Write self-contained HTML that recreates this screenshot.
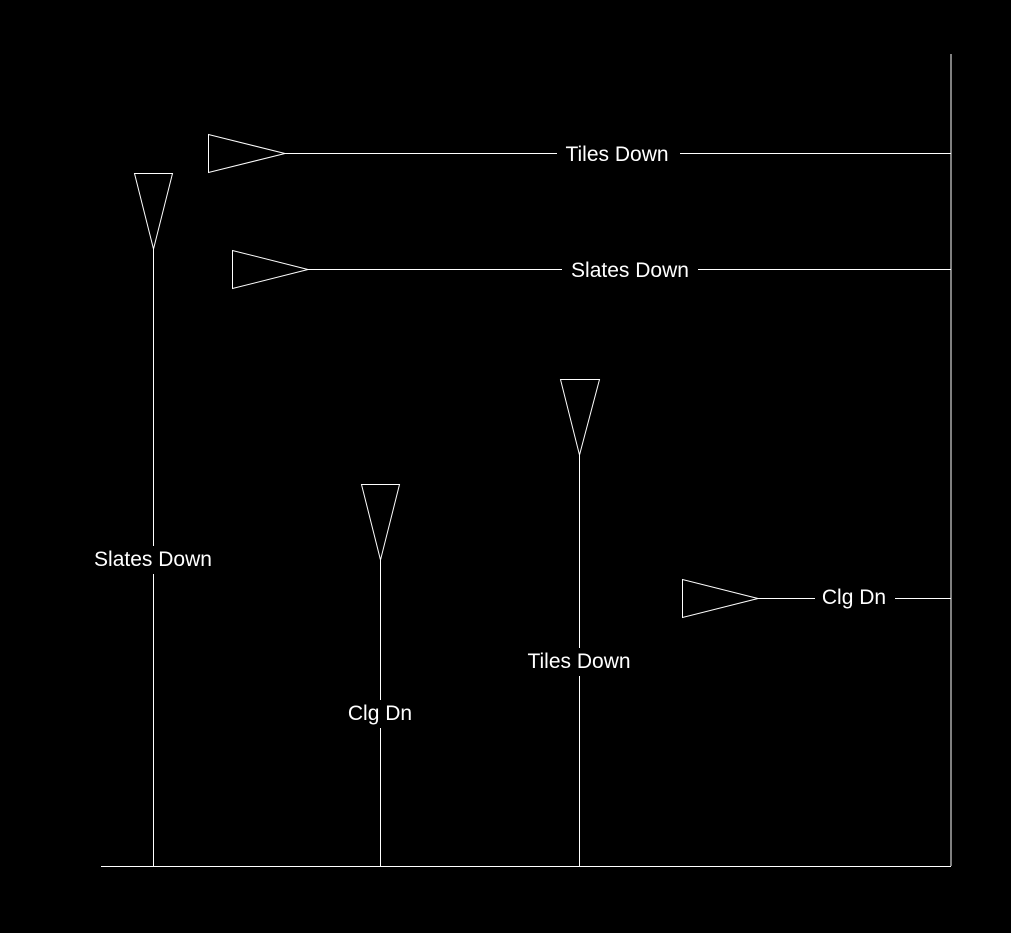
<!DOCTYPE html>
<html><head><style>html,body{margin:0;padding:0;background:#000;}svg{display:block}</style></head>
<body>
<svg width="1011" height="933" viewBox="0 0 1011 933" xmlns="http://www.w3.org/2000/svg">
<rect width="1011" height="933" fill="#000"/>
<g stroke="#fff" stroke-width="1" fill="none" shape-rendering="crispEdges">
<line x1="951" y1="54" x2="951" y2="866"/>
<line x1="101" y1="866.5" x2="951" y2="866.5"/>
<line x1="285" y1="153.5" x2="557" y2="153.5"/>
<line x1="680" y1="153.5" x2="951" y2="153.5"/>
<line x1="308" y1="269.5" x2="562" y2="269.5"/>
<line x1="698" y1="269.5" x2="951" y2="269.5"/>
<line x1="758" y1="598.5" x2="815" y2="598.5"/>
<line x1="895" y1="598.5" x2="951" y2="598.5"/>
<line x1="153.5" y1="249" x2="153.5" y2="866"/>
<line x1="380.5" y1="560" x2="380.5" y2="866"/>
<line x1="579.5" y1="455" x2="579.5" y2="866"/>
</g>
<g stroke="#fff" stroke-width="1" fill="none">
<polygon points="208.5,134.5 208.5,172.5 285,153.5"/>
<polygon points="232.5,250.5 232.5,288.5 308,269.5"/>
<polygon points="682.5,579.5 682.5,617.5 758,598.5"/>
<polygon points="134.5,173.5 172.5,173.5 153.5,249"/>
<polygon points="361.5,484.5 399.5,484.5 380.5,560"/>
<polygon points="560.5,379.5 599.5,379.5 579.5,455"/>
</g>
<g fill="#000">
<rect x="88" y="546" width="130" height="28"/>
<rect x="341" y="700" width="78" height="28"/>
<rect x="520" y="648" width="118" height="28"/>
</g>
<g fill="#fff" font-family="Liberation Sans, sans-serif" font-size="21" text-anchor="middle">
<text x="617" y="161">Tiles Down</text>
<text x="630" y="277">Slates Down</text>
<text x="854" y="604">Clg Dn</text>
<text x="153" y="566">Slates Down</text>
<text x="380" y="720">Clg Dn</text>
<text x="579" y="668">Tiles Down</text>
</g>
</svg>
</body></html>
